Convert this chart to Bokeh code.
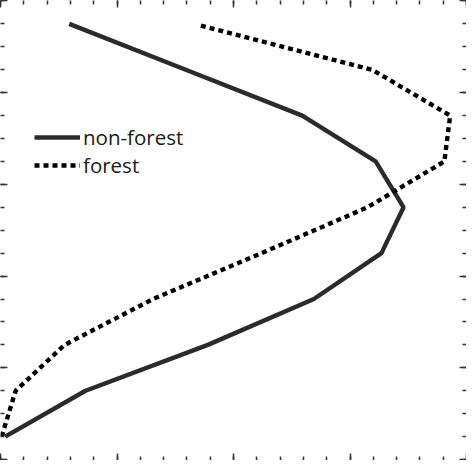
from bokeh.plotting import figure
from bokeh.models import LinearAxis, FixedTicker, Range1d
from bokeh.embed import file_html
from bokeh.resources import INLINE

# Data (arbitrary units; axis labels are cropped off)
levels = [4.75, 4.25, 3.75, 3.25, 2.75, 2.25, 1.75, 1.25, 0.75, 0.25]
non_forest = [0.59, 1.59, 2.59, 3.22, 3.46, 3.27, 2.69, 1.78, 0.73, 0.04]
forest_levels = [4.73, 4.25, 3.75, 3.25, 2.75, 2.25, 1.75, 1.25, 0.75, 0.25]
forest = [1.72, 3.19, 3.86, 3.81, 3.15, 2.24, 1.31, 0.55, 0.13, 0.01]

x_major = [0, 1, 2, 3, 4]
x_minor = [i * 0.2 for i in range(21)]
y_major = [0, 1, 2, 3, 4, 5]
y_minor = [i * 0.25 for i in range(21)]

p = figure(width=466, height=460, output_backend="svg", toolbar_location=None,
           x_range=Range1d(0.0, 4.0), y_range=Range1d(-0.0107, 5.005),
           x_axis_location=None, y_axis_location=None, min_border=0)
p.outline_line_color = None
p.grid.visible = False
p.background_fill_color = "white"
p.border_fill_color = "white"

def make_axis(ticks, minors):
    ax = LinearAxis(ticker=FixedTicker(ticks=ticks, minor_ticks=minors))
    ax.axis_line_color = None
    ax.major_tick_in = 7
    ax.major_tick_out = 0
    ax.minor_tick_in = 4
    ax.minor_tick_out = 0
    ax.major_tick_line_color = "#333333"
    ax.minor_tick_line_color = "#333333"
    ax.major_tick_line_width = 1.5
    ax.minor_tick_line_width = 1.5
    ax.major_label_text_font_size = "0px"
    ax.major_label_text_color = None
    ax.major_label_standoff = 0
    return ax

p.add_layout(make_axis(x_major, x_minor), "below")
p.add_layout(make_axis(x_major, x_minor), "above")
p.add_layout(make_axis(y_major, y_minor), "left")
p.add_layout(make_axis(y_major, y_minor), "right")

p.line(non_forest, levels, line_color="#2b2b2b", line_width=4.4,
       legend_label="non-forest")
p.line(forest, forest_levels, line_color="#000000", line_width=4.4,
       line_dash="5 4", legend_label="forest")

lg = p.legend[0]
lg.location = (34, 281)
lg.border_line_color = None
lg.background_fill_alpha = 0
lg.padding = 0
lg.margin = 0
lg.spacing = 0
lg.glyph_width = 46
lg.glyph_height = 24
lg.label_height = 24
lg.label_standoff = 3
lg.label_text_font = "Open Sans"
lg.label_text_font_size = "20.5px"
lg.label_text_color = "#1a1a1a"

open("out.html", "w").write(file_html(p, INLINE))
